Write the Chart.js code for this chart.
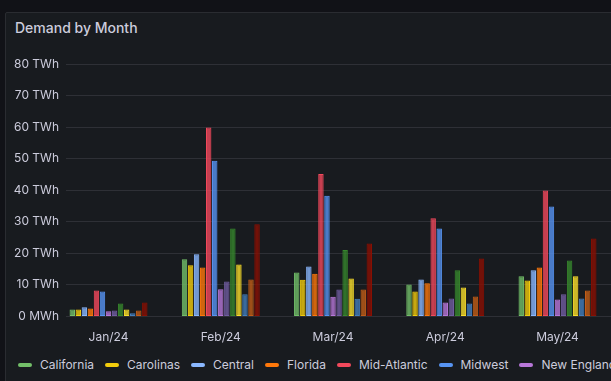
<!DOCTYPE html>
<html>
<head>
<meta charset="utf-8">
<script src="https://cdn.jsdelivr.net/npm/chart.js@4/dist/chart.umd.min.js"></script>
<style>
  html, body { margin:0; padding:0; background:#111217; width:611px; height:381px; overflow:hidden; font-family: Inter, "Noto Sans", sans-serif; }
  #panel { position:absolute; left:5px; top:12px; width:720px; height:420px; background:#181b1f; border:1px solid #2a2c31; border-radius:2px; }
  #title { position:absolute; left:15px; top:19px; font: 500 14px Inter, sans-serif; color:#ccccdc; }
  #wrap { position:absolute; left:0; top:50px; width:640px; height:300px; }
  #legend { position:absolute; left:18px; top:357px; display:flex; white-space:nowrap; font: 400 12px Inter, sans-serif; color:#ccccdc; align-items:center; }
  .li { display:flex; align-items:center; margin-right:11px; }
  .mk { width:14px; height:4px; border-radius:2px; margin-right:8px; }
</style>
</head>
<body>
<div id="panel"></div>
<div id="title">Demand by Month</div>
<div id="wrap"><canvas id="c" width="640" height="300"></canvas></div>
<div id="legend"></div>
<script>
const months = ["Jan/24", "Feb/24", "Mar/24", "Apr/24", "May/24"];
const regions = ["California", "Carolinas", "Central", "Florida", "Mid-Atlantic", "Midwest", "New England", "New York", "Northwest", "Southeast", "Southwest", "Tennessee", "Texas"];
const colors = ["#73BF69", "#F2CC0C", "#8AB8FF", "#FF780A", "#F2495C", "#5794F2", "#B877D9", "#705DA0", "#37872D", "#FADE2A", "#447EBC", "#C15C17", "#890F02"];
const yTicks = [0, 10, 20, 30, 40, 50, 60, 70, 80];

// Demand in TWh per region, Jan..May
const california  = [2.2, 18.1, 13.9, 10.1, 12.7];
const carolinas   = [2.2, 16.2, 11.6, 7.9, 11.4];
const central     = [2.9, 19.7, 15.8, 11.7, 14.6];
const florida     = [2.5, 15.5, 13.5, 10.5, 15.5];
const midAtlantic = [8.2, 59.9, 45.2, 31.1, 39.9];
const midwest     = [7.9, 49.4, 38.3, 27.9, 34.9];
const newEngland  = [1.6, 8.6, 6.2, 4.4, 5.4];
const newYork     = [1.9, 11.1, 8.5, 5.7, 7.0];
const northwest   = [4.1, 27.9, 21.1, 14.6, 17.7];
const southeast   = [2.2, 16.5, 12.0, 9.2, 12.7];
const southwest   = [1.0, 7.0, 5.6, 4.1, 5.7];
const tennessee   = [1.9, 11.7, 8.5, 6.3, 8.2];
const texas       = [4.4, 29.2, 23.1, 18.4, 24.7];

const series = [california, carolinas, central, florida, midAtlantic, midwest, newEngland, newYork, northwest, southeast, southwest, tennessee, texas];

function alpha(hex, a) {
  const n = parseInt(hex.slice(1), 16);
  return `rgba(${(n>>16)&255},${(n>>8)&255},${n&255},${a})`;
}

const datasets = series.map((vals, k) => ({
  label: regions[k],
  data: vals.map((v, i) => ({ x: i, y: v })),
  backgroundColor: alpha(colors[k], 0.8),
  borderColor: colors[k],
  borderWidth: 1,
  borderSkipped: false,
  categoryPercentage: 0.7,
  barPercentage: 0.9
}));

const tickFont = { family: "Inter", size: 12 };

new Chart(document.getElementById('c'), {
  type: 'bar',
  data: { datasets },
  options: {
    responsive: false,
    animation: false,
    devicePixelRatio: 1,
    layout: { padding: { top: 14, left: 0, right: 0, bottom: 0 } },
    plugins: { legend: { display: false }, tooltip: { enabled: false } },
    scales: {
      x: {
        type: 'linear',
        min: -0.379,
        max: 4.735,
        bounds: 'data',
        offset: false,
        grid: { display: false, drawTicks: false, offset: false },
        border: { display: false },
        afterBuildTicks: s => { s.ticks = months.map((m, i) => ({ value: i })); },
        ticks: {
          autoSkip: false,
          maxRotation: 0,
          padding: 14,
          color: '#ccccdc',
          font: tickFont,
          callback: v => months[v] !== undefined ? months[v] : ''
        },
        afterFit: s => { s.height = 33.6; }
      },
      y: {
        min: 0,
        max: 80,
        afterBuildTicks: s => { s.ticks = yTicks.map(v => ({ value: v })); },
        grid: { color: 'rgba(204,204,220,0.12)', drawTicks: false },
        border: { display: false },
        ticks: {
          padding: 7,
          color: '#ccccdc',
          font: tickFont,
          callback: v => v === 0 ? '0 MWh' : v + ' TWh'
        },
        afterFit: s => { s.width = 66; }
      }
    }
  }
});

const leg = document.getElementById('legend');
regions.forEach((r, k) => {
  const it = document.createElement('div');
  it.className = 'li';
  const mk = document.createElement('div');
  mk.className = 'mk';
  mk.style.background = colors[k];
  const tx = document.createElement('span');
  tx.textContent = r;
  it.appendChild(mk);
  it.appendChild(tx);
  leg.appendChild(it);
});
</script>
</body>
</html>
